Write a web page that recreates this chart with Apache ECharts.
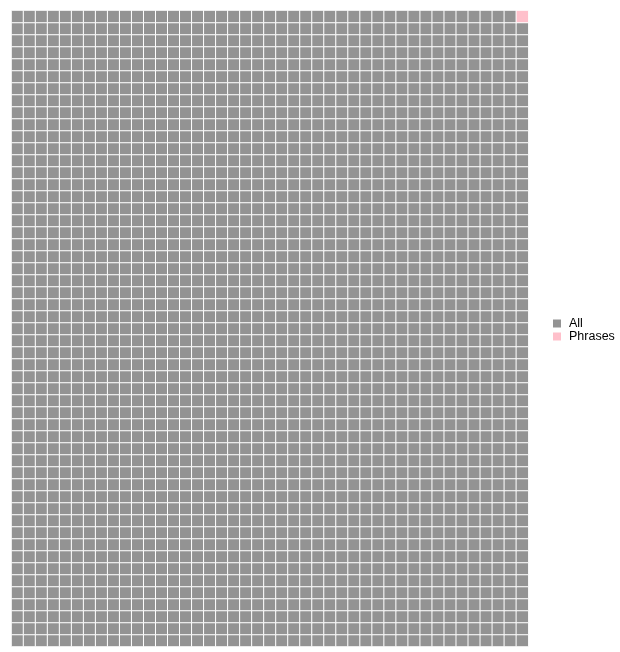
<!DOCTYPE html>
<html>
<head>
<meta charset="utf-8">
<script src="https://cdn.jsdelivr.net/npm/echarts@6/dist/echarts.min.js"></script>
<style>
  html, body { margin: 0; padding: 0; background: #fff; }
  #waffle { width: 620px; height: 652px; }
</style>
</head>
<body>
<div id="waffle"></div>
<script>
// waffle grid size
var nCols = 43;
var nRows = 53;
// groups and how many squares each one gets
var groupNames = ['All', 'Phrases'];
var groupCounts = [2278, 1];
var groupColors = ['#939393', '#ffc0cb'];

var colCats = [];
for (var i = 0; i < nCols; i++) colCats.push(String(i));
var rowCats = [];
for (var j = 0; j < nRows; j++) rowCats.push(String(j));

var myChart = echarts.init(document.getElementById('waffle'));

// squares are laid out row by row, starting bottom left
var seriesList = [];
var k = 0;
for (var g = 0; g < groupNames.length; g++) {
    var cells = [];
    for (var n = 0; n < groupCounts[g]; n++) {
        cells.push([k % nCols, Math.floor(k / nCols), 1]);
        k++;
    }
    seriesList.push({
        name: groupNames[g],
        type: 'heatmap',
        data: cells,
        itemStyle: {
            color: groupColors[g],
            borderColor: '#ffffff',
            borderWidth: 1
        },
        emphasis: { disabled: true }
    });
}

var option = {
    animation: false,
    color: groupColors,
    grid: {
        left: 11.5,
        top: 10.5,
        width: nCols * 12.02,
        height: nRows * 12
    },
    xAxis: {
        type: 'category',
        data: colCats,
        show: false
    },
    yAxis: {
        type: 'category',
        data: rowCats,
        show: false
    },
    legend: {
        orient: 'vertical',
        left: 546,
        top: 312,
        itemWidth: 10,
        itemHeight: 10,
        itemGap: 0,
        icon: 'rect',
        data: groupNames,
        textStyle: {
            fontFamily: 'Liberation Sans, Arial, sans-serif',
            fontSize: 12.5,
            lineHeight: 12,
            color: '#000',
            padding: [0, 0, 0, 2]
        }
    },
    series: seriesList
};

myChart.setOption(option);
</script>
</body>
</html>
